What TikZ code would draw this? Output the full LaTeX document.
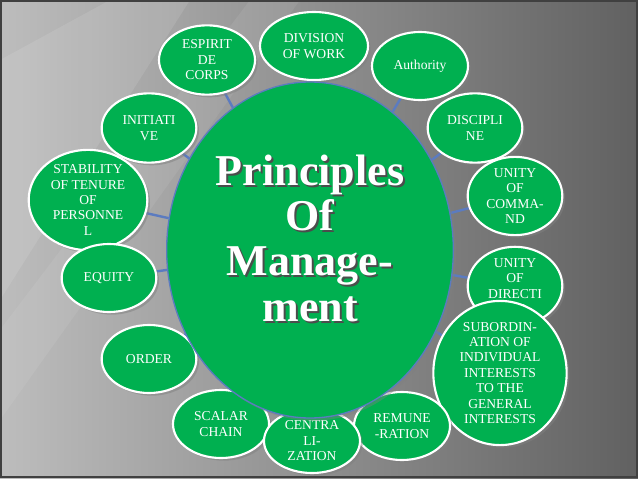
\documentclass[tikz,border=0pt]{standalone}
\usepackage{fontspec}
\setmainfont{Liberation Serif}
\usetikzlibrary{shapes.geometric,shadows}
\definecolor{grn}{HTML}{00B050}
\definecolor{lnk}{HTML}{5B7BC0}
\pgfdeclarelayer{bg}
\pgfsetlayers{bg,main}
\tikzset{
  sat/.style={ellipse,fill=grn,draw=white,line width=1.6pt,inner sep=0pt,
    text=white,font=\fontsize{10.2}{11.6}\selectfont,align=center,
    drop shadow={shadow xshift=2pt,shadow yshift=-2pt,opacity=.5}},
  lk/.style={draw=lnk,line width=1.8pt}
}
\begin{document}
\begin{tikzpicture}[x=0.75pt,y=-0.75pt]
\useasboundingbox (0,0) rectangle (638,478);
\begin{pgfonlayer}{bg}
\shade[left color=gray!52,right color=black!62] (0,0) rectangle (638,478);
\fill[white,opacity=.10] (0,60) -- (110,0) -- (190,0) -- (0,300) -- cycle;
\fill[white,opacity=.07] (0,330) -- (250,0) -- (300,0) -- (0,420) -- cycle;
\draw[black!75,line width=2pt] (1,1) rectangle (637,477);
\end{pgfonlayer}
\coordinate (c) at (310,250);
\node[sat,minimum width=72pt,minimum height=52pt] (esp) at (207,60) {ESPIRIT\\DE\\CORPS};
\node[sat,minimum width=81pt,minimum height=51pt] (div) at (314,46) {DIVISION\\OF WORK};
\node[sat,minimum width=72pt,minimum height=51pt] (aut) at (420,66) {Authority};
\node[sat,minimum width=71pt,minimum height=52pt] (ini) at (149,128) {INITIATI\\VE};
\node[sat,minimum width=71pt,minimum height=52pt] (dis) at (475,128) {DISCIPLI\\NE};
\node[sat,minimum width=89pt,minimum height=57pt] (sta) at (88,200) {STABILITY\\OF TENURE\\OF\\PERSONNE\\L};
\node[sat,minimum width=71pt,minimum height=51pt] (uc) at (515,196) {UNITY\\OF\\COMMA-\\ND};
\node[sat,minimum width=71pt,minimum height=51pt] (eq) at (109,278) {EQUITY};
\node[sat,minimum width=71pt,minimum height=52pt] (ud) at (515,286) {UNITY\\OF\\DIRECTI\\ON};
\node[sat,minimum width=71pt,minimum height=51pt] (ord) at (149,359) {ORDER};
\node[sat,minimum width=100pt,minimum height=93pt] (sub) at (500,373) {SUBORDIN-\\ATION OF\\INDIVIDUAL\\INTERESTS\\TO THE\\GENERAL\\INTERESTS};
\node[sat,minimum width=72pt,minimum height=51pt] (sca) at (221,424) {SCALAR\\CHAIN};
\node[sat,minimum width=72pt,minimum height=51pt] (rem) at (402,426) {REMUNE\\-RATION};
\node[sat,minimum width=72pt,minimum height=48pt] (cen) at (312,441) {CENTRA\\LI-\\ZATION};
\node[ellipse,fill=grn,draw=lnk,line width=1pt,minimum width=215pt,minimum height=252pt,
  drop shadow={shadow xshift=2pt,shadow yshift=-2pt,opacity=.4}] (main) at (c) {};
\begin{pgfonlayer}{bg}
\foreach \n in {esp,div,aut,ini,dis,sta,uc,eq,ud,ord,sub,sca,rem,cen}{\draw[lk] (main) -- (\n);}
\end{pgfonlayer}
\node[text=black!70,font=\bfseries\fontsize{33}{34}\selectfont,align=center] at ([xshift=1.5pt,yshift=7.5pt]main) {Principles\\Of\\Manage-\\ment};
\node[text=white,font=\bfseries\fontsize{33}{34}\selectfont,align=center] (title) at ([yshift=9pt]main) {Principles\\Of\\Manage-\\ment};
\end{tikzpicture}
\end{document}
